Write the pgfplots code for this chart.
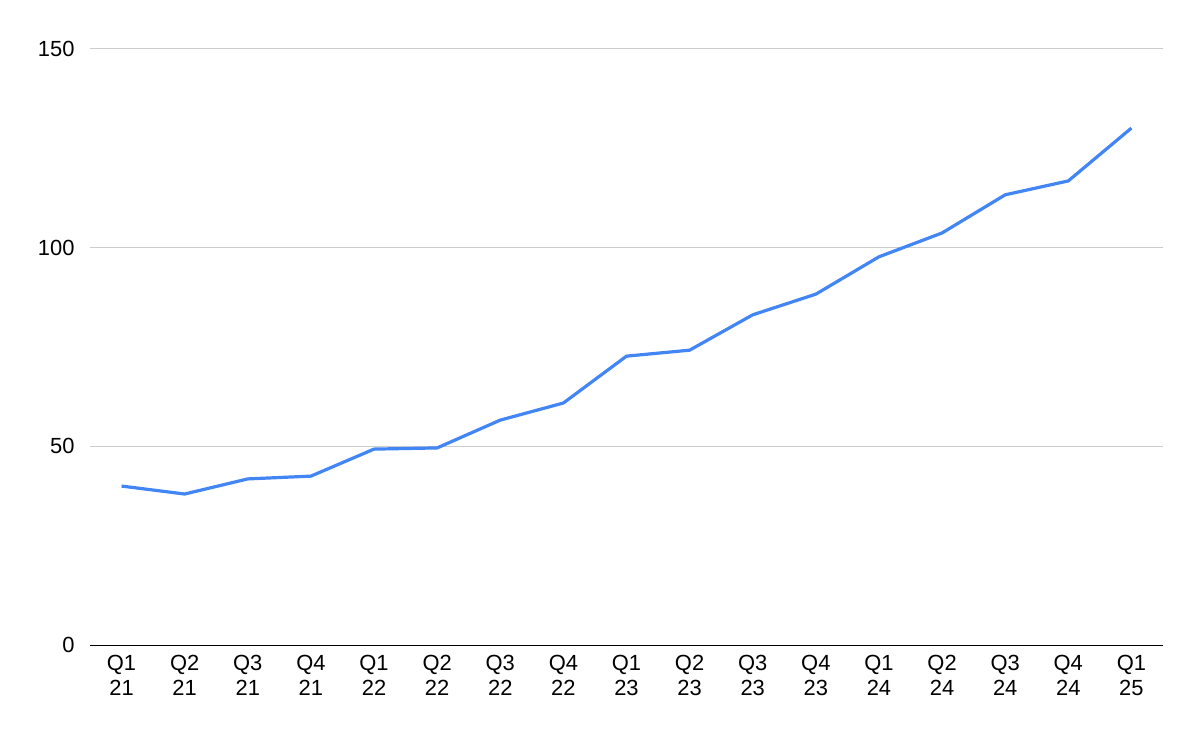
\documentclass[border=0pt]{standalone}
\usepackage{pgfplots}
\pgfplotsset{compat=1.18}
\usepackage{fontspec}
\setmainfont{Liberation Sans}
\definecolor{gblue}{HTML}{4285F4}
\definecolor{ggrid}{HTML}{CCCCCC}
\begin{document}
\fontsize{22}{25}\selectfont
\begin{tikzpicture}
  \useasboundingbox (-90bp,-97bp) rectangle (1110bp,645bp);
  \begin{axis}[
    scale only axis,
    width=1073bp, height=596bp,
    at={(0,0)}, anchor=south west,
    xmin=-0.5, xmax=16.5,
    ymin=0, ymax=150,
    ytick={0,50,100,150},
    xtick=data,
    xticklabels={{Q1\\21},{Q2\\21},{Q3\\21},{Q4\\21},
                 {Q1\\22},{Q2\\22},{Q3\\22},{Q4\\22},
                 {Q1\\23},{Q2\\23},{Q3\\23},{Q4\\23},
                 {Q1\\24},{Q2\\24},{Q3\\24},{Q4\\24},{Q1\\25}},
    x tick label style={align=center, font=\fontsize{22}{25}\selectfont, yshift=-3bp},
    y tick label style={font=\fontsize{22}{25}\selectfont, xshift=-8bp},
    /pgf/number format/assume math mode=true,
    major tick style={draw=none},
    axis x line*=bottom,
    axis y line*=left,
    y axis line style={draw=none},
    x axis line style={black, line width=1bp, -},
    ymajorgrids,
    major grid style={ggrid, line width=1bp},
  ]
  \addplot[gblue, line width=3.2bp, mark=none, line join=round] coordinates {
    (0,40.0) (1,38.0) (2,41.8) (3,42.5)
    (4,49.3) (5,49.6) (6,56.6) (7,60.9)
    (8,72.7) (9,74.2) (10,83.1) (11,88.3)
    (12,97.7) (13,103.7) (14,113.3) (15,116.8) (16,130.1)
  };
  \end{axis}
\end{tikzpicture}
\end{document}
